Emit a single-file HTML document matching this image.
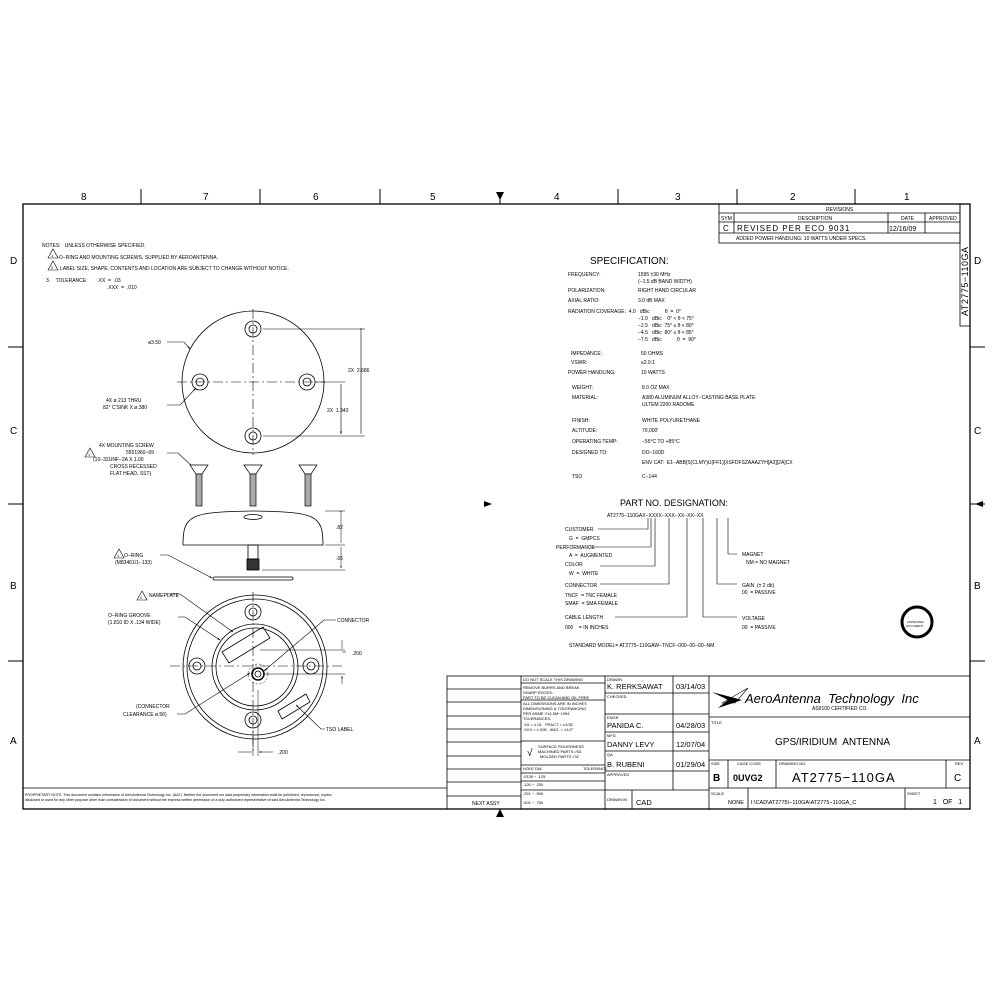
<!DOCTYPE html>
<html><head><meta charset="utf-8"><style>
html,body{margin:0;padding:0;background:#fff;}
svg{display:block;}
text{font-family:"Liberation Sans",sans-serif;fill:#000;white-space:pre;}
.s{font-size:6px;}
.t{font-size:5px;}
.m{font-size:7px;}
</style></head><body>
<svg width="1000" height="1000" viewBox="0 0 1000 1000" xmlns="http://www.w3.org/2000/svg" xml:space="preserve">
<defs><marker id="a" viewBox="0 0 10 10" refX="9" refY="5" markerWidth="5" markerHeight="5" orient="auto"><path d="M0,2 L10,5 L0,8z" fill="#000"/></marker></defs>
<g stroke="#000" fill="none" stroke-width="1">
<rect x="23" y="204" width="947" height="605" stroke-width="1.3"/>
<path d="M141,189V204M260,189V204M380,189V204M618,189V204M737,189V204M855,189V204"/>
<path d="M8,347H23M8,661H23M970,347H985M970,661H985M8,504H23M970,504H985"/>
</g>
<path d="M496,192 l4,8 4,-8z M492,504 l-8,-3 0,6z M975,504 l8,-3 0,6z M496,817 l4,-8 4,8z" fill="#000"/>
<path d="M500,192V204M500,809V817" stroke="#000"/>
<g font-size="10">
<text x="81" y="200">8</text><text x="203" y="200">7</text><text x="313" y="200">6</text><text x="430" y="200">5</text>
<text x="554" y="200">4</text><text x="675" y="200">3</text><text x="790" y="200">2</text><text x="904" y="200">1</text>
<text x="10" y="264">D</text><text x="10" y="434">C</text><text x="10" y="589">B</text><text x="10" y="744">A</text>
<text x="974" y="264">D</text><text x="974" y="434">C</text><text x="974" y="589">B</text><text x="974" y="744">A</text>
</g>

<g stroke="#000" fill="none" stroke-width="0.8">
<rect x="719" y="204" width="241" height="39"/>
<path d="M719,213H960M719,222H960M719,233H960M734,213V233M888,213V233M925,213V233"/>
<rect x="960" y="204" width="10" height="122"/>
</g>
<text class="t" x="826" y="211">REVISIONS</text>
<text class="t" x="721" y="220">SYM</text><text class="t" x="798" y="220">DESCRIPTION</text><text class="t" x="901" y="220">DATE</text><text class="t" x="929" y="220">APPROVED</text>
<text font-size="8" x="723" y="231">C</text><text font-size="8" x="737" y="231" letter-spacing="1">REVISED PER ECO 9031</text><text font-size="7" x="889" y="231">12/16/09</text>
<text class="t" x="736" y="240">ADDED POWER HANDLING: 10 WATTS UNDER SPECS.</text>
<text font-size="9" transform="translate(968,316) rotate(-90)" letter-spacing="0.5">AT2775−110GA</text>

<text class="t" x="42" y="247">NOTES:   UNLESS OTHERWISE SPECIFIED.</text>
<path d="M48,258 l5,-9 5,9z M48,270 l5,-9 5,9z M85,457 l5,-9 5,9z M114,558 l5,-9 5,9z M137,600 l5,-9 5,9z" fill="none" stroke="#000" stroke-width="0.6"/>
<text font-size="4" x="51" y="257">1</text><text font-size="4" x="51" y="269">2</text><text font-size="4" x="88" y="456">1</text><text font-size="4" x="117" y="557">1</text><text font-size="4" x="140" y="599">2</text>
<text class="t" x="59" y="259">O−RING AND MOUNTING SCREWS, SUPPLIED BY AEROANTENNA.</text>
<text class="t" x="60" y="270">LABEL SIZE, SHAPE, CONTENTS AND LOCATION ARE SUBJECT TO CHANGE WITHOUT NOTICE.</text>
<text class="t" x="46" y="282">3.    TOLERANCE:       .XX  =  .03</text>
<text class="t" x="107" y="289">.XXX  =  .010</text>

<g stroke="#000" fill="none" stroke-width="0.8">
<circle cx="253" cy="382" r="71"/>
<path d="M253,309V455M177,382H325" stroke-dasharray="10,3,2,3" stroke-width="0.6"/>
<circle cx="253" cy="329" r="8"/><circle cx="253" cy="329" r="4"/>
<circle cx="200" cy="382" r="8"/><circle cx="200" cy="382" r="4"/>
<circle cx="307" cy="382" r="8"/><circle cx="307" cy="382" r="4"/>
<circle cx="253" cy="436" r="8"/><circle cx="253" cy="436" r="4"/>
<path d="M263,329H365M263,436H365M315,382H345" stroke-width="0.6"/>
<path d="M361,331V434M341,384V434" marker-start="url(#a)" marker-end="url(#a)" stroke-width="0.6"/>
<path d="M167,342H184L190,349" stroke-width="0.6" marker-end="url(#a)"/>
<path d="M167,405H180L196,388" stroke-width="0.6" marker-end="url(#a)"/>
<path d="M167,453H178L193,467" stroke-width="0.6" marker-end="url(#a)"/>
</g>
<text class="t" x="148" y="344">ø3.50</text>
<text class="t" x="348" y="372">2X  2.686</text>
<text class="t" x="327" y="412">2X  1.343</text>
<text class="t" x="106" y="402">4X ø.213 THRU</text>
<text class="t" x="103" y="409">82° C'SINK X ø.380</text>
<text class="t" x="99" y="447">4X MOUNTING SCREW</text>
<text class="t" x="126" y="454">5551960−69</text>
<text class="t" x="93" y="461">(10−32UNF−2A X 1.00</text>
<text class="t" x="110" y="468">CROSS RECESSED</text>
<text class="t" x="110" y="475">FLAT HEAD, SST)</text>

<g stroke="#000" fill="#fff" stroke-width="0.7">
<path d="M190,465H208L202,474H196Z"/><rect x="196" y="474" width="6" height="32" fill="#aaa"/>
<path d="M244,465H262L256,474H250Z"/><rect x="250" y="474" width="6" height="32" fill="#aaa"/>
<path d="M299,465H317L311,474H305Z"/><rect x="305" y="474" width="6" height="32" fill="#aaa"/>
</g>

<g stroke="#000" fill="none" stroke-width="0.8">
<path d="M183,545 C183,515 190,512 253,511 C316,512 323,515 323,545 Z"/>
<ellipse cx="253" cy="517" rx="9" ry="2.5"/>
<rect x="248" y="545" width="10" height="14"/>
<rect x="247" y="559" width="12" height="11" fill="#333"/>
<path d="M325,511H345M325,545H345M262,570H345" stroke-width="0.5"/>
<path d="M341,513V543M341,547V568" marker-start="url(#a)" marker-end="url(#a)" stroke-width="0.5"/>
<rect x="213" y="577" width="80" height="3" rx="1.5"/>
<path d="M160,555H168L212,578" stroke-width="0.6" marker-end="url(#a)"/>
</g>
<text class="t" x="336" y="529">.82</text><text class="t" x="336" y="560">.65</text>
<text class="t" x="124" y="557">O−RING</text>
<text class="t" x="115" y="564">(M83461/1−133)</text>

<g stroke="#000" fill="none" stroke-width="0.8">
<circle cx="255" cy="667" r="72"/>
<circle cx="255" cy="667" r="68"/>
<circle cx="255" cy="667" r="43"/>
<circle cx="255" cy="667" r="39"/>
<path d="M253,592V752M170,666H345" stroke-dasharray="10,3,2,3" stroke-width="0.6"/>
<circle cx="253" cy="612" r="8"/><circle cx="253" cy="612" r="4"/>
<circle cx="197" cy="666" r="8"/><circle cx="197" cy="666" r="4"/>
<circle cx="311" cy="666" r="8"/><circle cx="311" cy="666" r="4"/>
<circle cx="253" cy="720" r="8"/><circle cx="253" cy="720" r="4"/>
<circle cx="258" cy="674" r="10" stroke-dasharray="2,2" stroke-width="0.5"/>
<circle cx="258" cy="674" r="6" stroke-width="1.5"/>
<circle cx="258" cy="674" r="3"/>
<path d="M222,652 L263,627 L270,638 L229,663Z"/>
<path d="M278,711 L306,694 L310,702 L282,719Z"/>
<path d="M264,674H345M260,650H345" stroke-width="0.5"/>
<path d="M342,640V649M342,684V676" marker-end="url(#a)" stroke-width="0.5"/>
<path d="M253,730V756M258,690V756" stroke-width="0.5"/>
<path d="M238,752H252M273,752H259" marker-end="url(#a)" stroke-width="0.5"/>
<path d="M166,594H180L233,632" stroke-width="0.6" marker-end="url(#a)"/>
<path d="M178,617H185L220,640" stroke-width="0.6" marker-end="url(#a)"/>
<path d="M336,620H324L264,671" stroke-width="0.6" marker-end="url(#a)"/>
<path d="M177,714H185L250,673" stroke-width="0.6" marker-end="url(#a)"/>
<path d="M325,729H321L296,705" stroke-width="0.6" marker-end="url(#a)"/>
<path d="M346,652H342" stroke-width="0.5"/>
</g>
<text class="t" x="149" y="597">NAMEPLATE</text>
<text class="t" x="108" y="617">O−RING GROOVE</text>
<text class="t" x="108" y="624">(1.810 ID X .134 WIDE)</text>
<text class="t" x="337" y="622">CONNECTOR</text>
<text class="t" x="352" y="655">.200</text>
<text class="t" x="136" y="708">(CONNECTOR</text>
<text class="t" x="123" y="716">CLEARANCE ø.56)</text>
<text class="t" x="326" y="731">TSO LABEL</text>
<text class="t" x="278" y="754">.200</text>

<path d="M23,788H447" stroke="#000" stroke-width="0.8"/>
<text font-size="3.6" x="25" y="796">PROPRIETARY NOTE: This document contains information of AeroAntenna Technology Inc. (AAT). Neither the document nor said proprietary information shall be published, reproduced, copied,</text>
<text font-size="3.6" x="25" y="801">disclosed or used for any other purpose other than consideration of document without the express written permission of a duly authorized representative of said AeroAntenna Technology Inc.</text>

<text font-size="10" x="590" y="264">SPECIFICATION:</text>
<g class="t">
<text x="568" y="276">FREQUENCY:</text><text x="638" y="276">1595 ±30 MHz</text><text x="638" y="283">(−1.5 dB BAND WIDTH)</text>
<text x="568" y="292">POLARIZATION:</text><text x="638" y="292">RIGHT HAND CIRCULAR</text>
<text x="568" y="302">AXIAL RATIO:</text><text x="638" y="302">3.0 dB MAX</text>
<text x="568" y="313">RADIATION COVERAGE:  4.0   dBic           θ  =  0°</text>
<text x="638" y="320">−1.0   dBic    0° &lt; θ &lt; 75°</text>
<text x="638" y="327">−2.5   dBic  75° ≤ θ &lt; 80°</text>
<text x="638" y="334">−4.5   dBic  80° ≤ θ &lt; 85°</text>
<text x="638" y="341">−7.5   dBic           θ  =  90°</text>
<text x="571" y="355">IMPEDANCE:</text><text x="641" y="355">50 OHMS</text>
<text x="571" y="364">VSWR:</text><text x="641" y="364">≤2.0:1</text>
<text x="568" y="374">POWER HANDLING:</text><text x="641" y="374">10 WATTS</text>
<text x="572" y="389">WEIGHT:</text><text x="642" y="389">8.0 OZ MAX</text>
<text x="572" y="399">MATERIAL:</text><text x="642" y="399">A380 ALUMINUM ALLOY−CASTING BASE PLATE</text><text x="642" y="406">ULTEM 2200 RADOME</text>
<text x="572" y="422">FINISH:</text><text x="642" y="422">WHITE POLYURETHANE</text>
<text x="572" y="432">ALTITUDE:</text><text x="642" y="432">70,000'</text>
<text x="572" y="443">OPERATING TEMP:</text><text x="642" y="443">−55°C TO +85°C</text>
<text x="572" y="454">DESIGNED TO:</text><text x="642" y="454">DO−160D</text>
<text x="642" y="464">ENV CAT:  E1−ABB[S(CLMY)U(FF1)]XSFDFSZAAAZYH[A3][2A]CX</text>
<text x="572" y="478">TSO</text><text x="642" y="478">C−144</text>
</g>

<text font-size="9" x="620" y="506">PART NO. DESIGNATION:</text>
<g class="t">
<text x="607" y="517">AT2775−110GAX−XXXX−XXX−XX−XX−XX</text>
<text x="565" y="531">CUSTOMER</text><text x="569" y="540">G  =  GMPCS</text>
<text x="556" y="549">PERFORMANCE</text><text x="569" y="557">A  =  AUGMENTED</text>
<text x="565" y="566">COLOR</text><text x="569" y="575">W  =  WHITE</text>
<text x="565" y="587">CONNECTOR</text><text x="565" y="597">TNCF  = TNC FEMALE</text><text x="565" y="605">SMAF  = SMA FEMALE</text>
<text x="565" y="619">CABLE LENGTH</text><text x="565" y="629">000    = IN INCHES</text>
<text x="742" y="556">MAGNET</text><text x="746" y="564">NM = NO MAGNET</text>
<text x="742" y="587">GAIN  (± 2 db)</text><text x="742" y="594">00  = PASSIVE</text>
<text x="742" y="620">VOLTAGE</text><text x="742" y="629">00  = PASSIVE</text>
<text x="569" y="647">STANDARD MODEL= AT2775−110GAW−TNCF−000−00−00−NM</text>
</g>
<g stroke="#000" fill="none" stroke-width="0.6">
<path d="M598,529H648V518M651,518V547H590M655,518V566H600M669,518V584H600M687,518V617H615M703,518V617H737M717,518V584H737M728,518V554H737"/>
</g>
<circle cx="917" cy="622" r="15" stroke="#000" stroke-width="3" fill="none"/>
<text font-size="3" x="907" y="623">APPROVED</text><text font-size="3" x="906" y="627">DOCUMENT</text>

<g stroke="#000" fill="none" stroke-width="0.8">
<rect x="447" y="676" width="523" height="133"/>
<path d="M521,676V809M605,676V809M673,676V790M709,676V809"/>
<path d="M447,689H521M447,702H521M447,716H521M447,729H521M447,742H521M447,756H521M447,769H521M447,782H521M447,796H521"/>
<path d="M521,683H605M521,700H605M521,741H605M521,765H605M521,773H605M521,781H605M521,790H605"/>
<path d="M605,693H709M605,714H709M605,732H709M605,751H709M605,771H709M605,790H709M632,790V809"/>
<path d="M709,717H970M709,760H970M709,788H970M728,760V788M776,760V788M946,760V788M748,788V809M905,788V809"/>
</g>
<g font-size="4">
<text x="523" y="681">DO NOT SCALE THIS DRAWING</text>
<text x="523" y="689">REMOVE BURRS AND BREAK</text><text x="523" y="694">SHARP EDGES:</text><text x="523" y="699">PART TO BE CLEAN AND OIL FREE</text>
<text x="523" y="705">ALL DIMENSIONS ARE IN INCHES</text><text x="523" y="710">DIMENSIONING &amp; TOLERANCING</text><text x="523" y="715">PER ASME Y14.5M−1994</text><text x="523" y="720">TOLERANCES:</text>
<text x="523" y="726">.XX = ±.01   FRACT = ±1/32</text><text x="523" y="731">.XXX = ±.005   ANG. = ±1/2°</text>
<text x="538" y="748">SURFACE ROUGHNESS</text><text x="538" y="753">MACHINED PARTS √63</text><text x="540" y="758">MOLDED PARTS √32</text>
<text x="523" y="770">HOLE DIA.</text><text x="583" y="770">TOLERANCE</text>
<text x="523" y="778">.0135 − .125</text><text x="523" y="786">.126 − .250</text><text x="523" y="795">.251 − .500</text><text x="523" y="804">.501 − .750</text>
<text x="607" y="681">DRAWN</text><text x="607" y="698">CHECKED</text><text x="607" y="719">ENGR</text><text x="607" y="737">MFG</text><text x="607" y="756">QA</text><text x="607" y="776">APPROVED</text><text x="607" y="801">DRAWN IN</text>
<text x="711" y="724">TITLE</text><text x="711" y="765">SIZE</text><text x="737" y="765">CAGE CODE</text><text x="779" y="765">DRAWING NO.</text><text x="955" y="765">REV</text>
<text x="711" y="795">SCALE</text><text x="907" y="795">SHEET</text>
</g>
<text font-size="10" x="527" y="756">√</text>
<text class="t" x="472" y="805">NEXT ASSY</text>
<g font-size="7.5">
<text x="607" y="689">K. RERKSAWAT</text><text x="676" y="689">03/14/03</text>
<text x="607" y="728">PANIDA C.</text><text x="676" y="728">04/28/03</text>
<text x="607" y="747">DANNY LEVY</text><text x="676" y="747">12/07/04</text>
<text x="607" y="767">B. RUBENI</text><text x="676" y="767">01/29/04</text>
<text x="636" y="805">CAD</text>
</g>
<path d="M712,692 L742,700 L718,708 L728,700Z" fill="#000"/>
<path d="M722,703 L748,688 L735,703Z" fill="none" stroke="#000" stroke-width="0.6"/>
<text font-size="13" font-style="italic" x="745" y="703">AeroAntenna  Technology  Inc</text>
<text font-size="5" x="812" y="710">AS9100 CERTIFIED CO.</text>
<text font-size="10" x="775" y="745">GPS/IRIDIUM  ANTENNA</text>
<text font-size="10" font-weight="bold" x="713" y="781">B</text>
<text font-size="9" font-weight="bold" x="733" y="781">0UVG2</text>
<text font-size="13" x="792" y="782" letter-spacing="1">AT2775−110GA</text>
<text font-size="10" x="954" y="781">C</text>
<text font-size="5.5" x="728" y="804">NONE</text>
<text font-size="5.5" x="751" y="804">I:\CAD\AT2775\−110GA\AT2775−110GA_C</text>
<text font-size="7" x="933" y="804">1   OF   1</text>
</svg>
</body></html>
